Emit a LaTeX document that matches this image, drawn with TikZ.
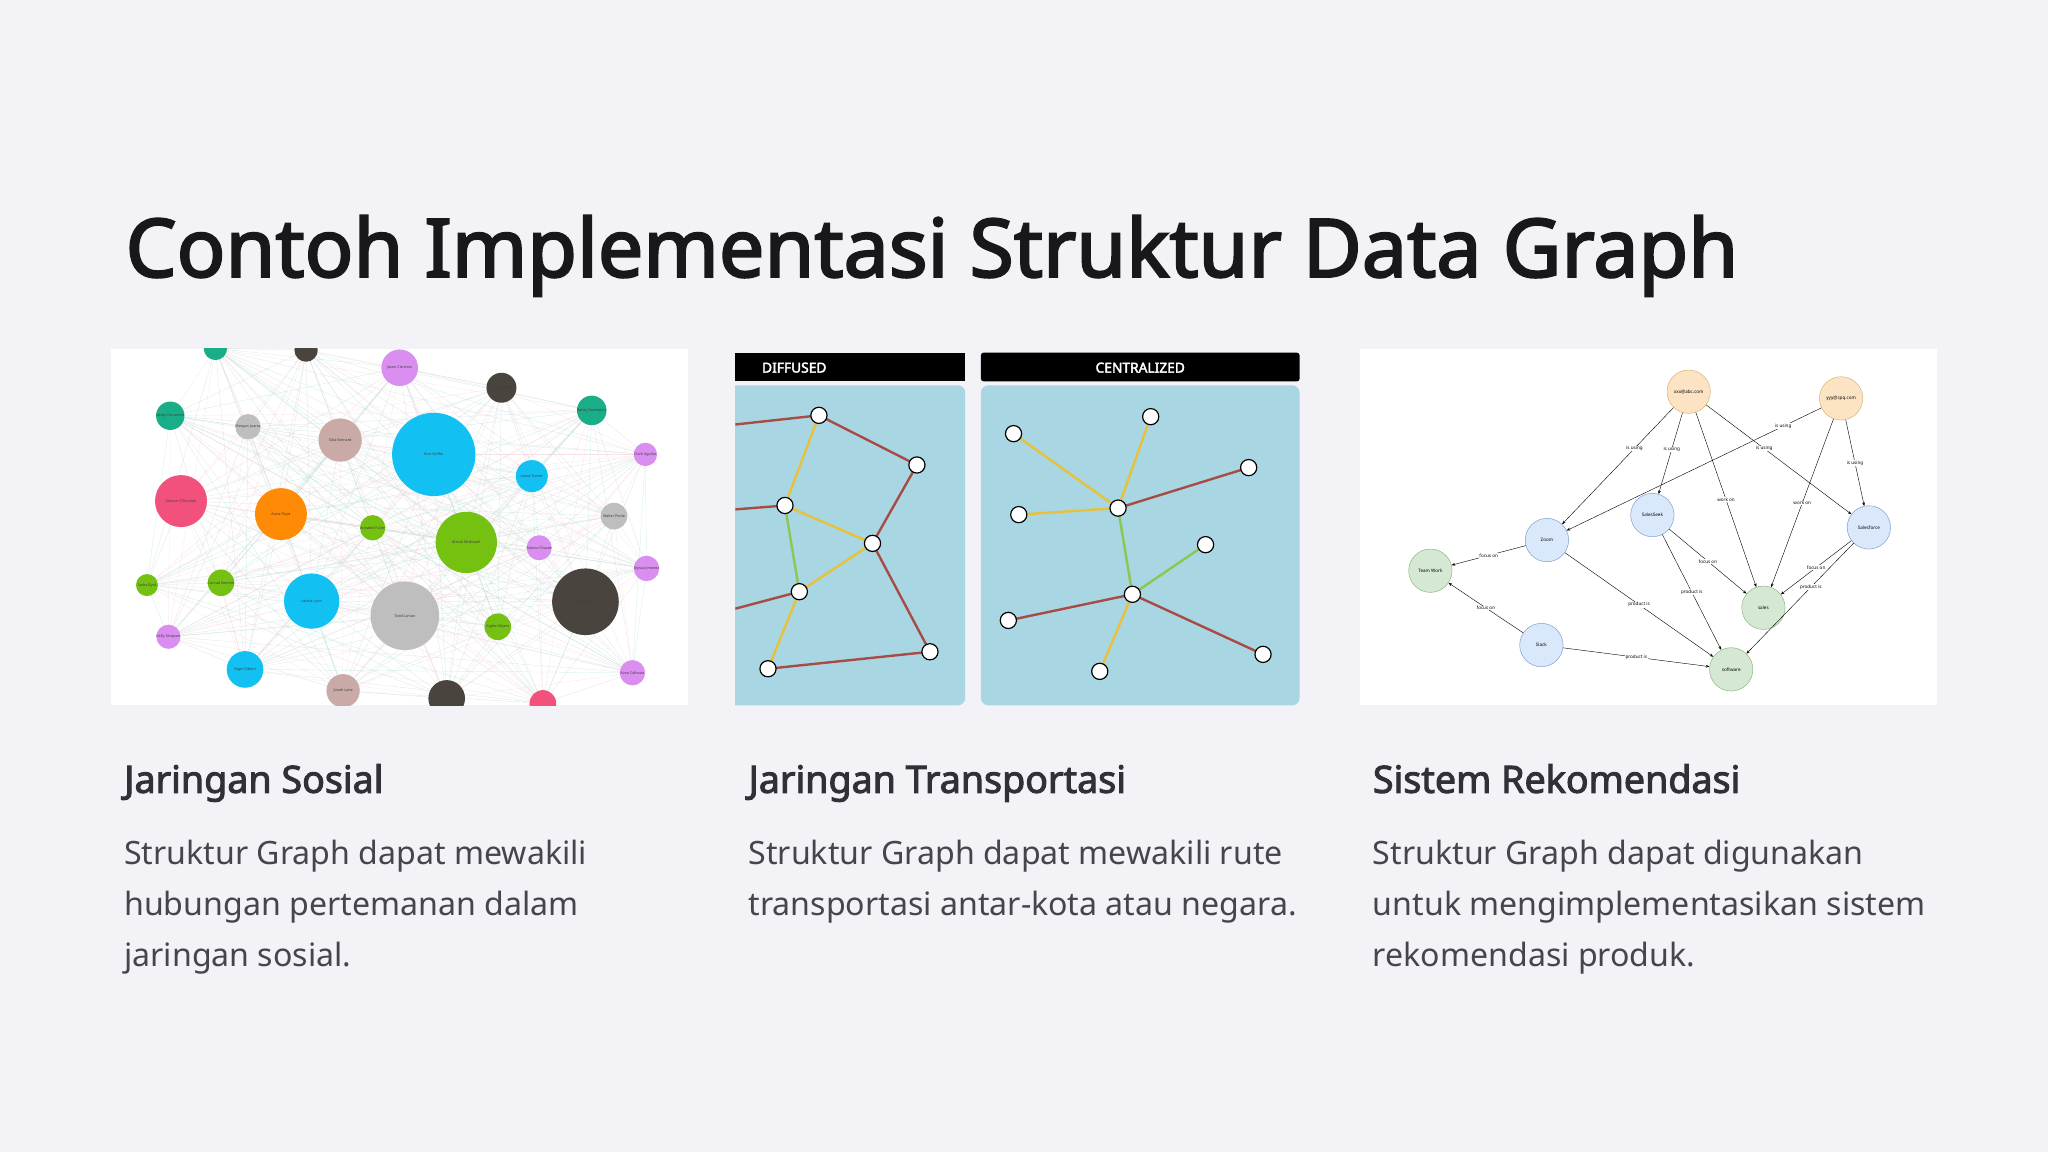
\documentclass[tikz,border=0pt]{standalone}
\usepackage{fontspec}
\setmainfont{Noto Sans}[AutoFakeBold=2.6]
\usetikzlibrary{arrows.meta}
\definecolor{bg}{HTML}{F2F2F7}
\definecolor{ttl}{HTML}{17171C}
\definecolor{hd}{HTML}{303036}
\definecolor{bd}{HTML}{45454B}
\definecolor{sky}{HTML}{A9D6E3}
\definecolor{ty}{HTML}{E8C13A}
\definecolor{tr}{HTML}{A84B45}
\definecolor{tg}{HTML}{8BC850}
\definecolor{cteal}{HTML}{19AE88}
\definecolor{cdark}{HTML}{4A443E}
\definecolor{cviol}{HTML}{DA8EF0}
\definecolor{cgray}{HTML}{BEBEBE}
\definecolor{crosy}{HTML}{C9AAA7}
\definecolor{ccyan}{HTML}{12C0F2}
\definecolor{cpink}{HTML}{F2517C}
\definecolor{corg}{HTML}{FF8A05}
\definecolor{cgrn}{HTML}{74C112}
\definecolor{oF}{HTML}{FCE3C3}\definecolor{oB}{HTML}{D6B36A}
\definecolor{bF}{HTML}{DAE8FC}\definecolor{bB}{HTML}{7C9AC8}
\definecolor{gF}{HTML}{D5E8D4}\definecolor{gB}{HTML}{88B47A}
\begin{document}
\begin{tikzpicture}[x=0.05cm,y=-0.05cm,
  ttext/.style={font=\fontsize{88}{100}\selectfont\bfseries,text=ttl,anchor=base west,inner sep=0},
  htext/.style={font=\fontsize{41}{50}\selectfont\bfseries,text=hd,anchor=base west,inner sep=0},
  btext/.style={font=\fontsize{35}{55.5}\selectfont,text=bd,anchor=north west,inner sep=0,align=left},
  tnode/.style={circle,draw=black,line width=1.3pt,fill=white,minimum size=0.62cm,inner sep=0},
  tline/.style={line width=2.6pt},
  rnode/.style={circle,line width=0.5pt,minimum size=1.66cm,inner sep=0,font=\fontsize{5}{6}\selectfont},
  rlab/.style={fill=white,inner sep=0.6pt,font=\fontsize{5}{6}\selectfont},
  rarr/.style={-{Stealth[length=4pt,width=3pt]},line width=0.45pt},
  sedge/.style={line width=0.25pt,opacity=0.7},
  blab/.style={font=\fontsize{15}{16}\selectfont\bfseries,text=white}
]
\fill[bg] (0,0) rectangle (1568,882);
\useasboundingbox (0,0) rectangle (1568,882);
\node[ttext] (title) at (96,212) {Contoh Implementasi Struktur Data Graph};

% ---------- panel 1 ----------
\fill[white] (85,267) rectangle (527,540);
\begin{scope}
\clip (85,267) rectangle (527,540);
\begin{scope}[shift={(84.2,264.2)},xscale=0.2833,yscale=0.2552]
\foreach \k/\x/\y in {1/285/10,2/530/15,3/783/68,4/1058/128,5/163/212,6/373/245,7/622/285,8/875/328,9/1302/196,10/1447/328,11/1140/393,12/192/468,13/462/507,14/710/548,15/963/592,16/1362/513,17/1160/608,18/1450/670,19/100/720,20/300/713,21/545/768,22/797/812,23/1285/770,24/1048/845,25/158/875,26/365/973,27/630/1037,28/910/1060,29/1170/1075,30/1412/983}
  \coordinate (c\k) at (\x,\y);
\foreach \i in {1,...,30}{
  \foreach \j in {1,...,30}{
    \ifnum\i<\j
      \pgfmathtruncatemacro{\m}{mod(\i*7+\j*3,4)}
      \ifnum\m=0 \draw[sedge,cteal!35] (c\i) -- (c\j);\fi
      \ifnum\m=1 \draw[sedge,gray!35] (c\i) -- (c\j);\fi
      \ifnum\m=2 \draw[sedge,cpink!25] (c\i) -- (c\j);\fi
    \fi}}
\foreach \k/\r/\c/\t in {1/35/cteal/{},2/35/cdark/{},3/55/cviol/{Jason Cisneros},4/45/cdark/{Sidney Lucas},5/33/cteal/{Kasey Cervantes},6/35/cgray/{Morgan Juarez},7/65/crosy/{Talia Bernard},8/125/ccyan/{Kurt Griffin},9/35/cteal/{Bailey Davenport},10/35/cviol/{Clark Aguilar},11/48/ccyan/{Laura Turner},12/78/cpink/{Sharon O'Donnell},13/78/corg/{Anna Floyd},14/38/cgrn/{Annabel Fuller},15/92/cgrn/{Marsh Mcdowell},16/40/cgray/{Walter Poole},17/35/cviol/{Alonso Chavez},18/35/cviol/{Alyssa Jimenez},19/33/cgrn/{Tasha Byrd},20/33/cgrn/{Conrad Barnett},21/83/ccyan/{Leticia Lynn},22/103/cgray/{Todd Larson},23/100/cdark/{Milan Kelly},24/40/cgrn/{Kaylen Myers},25/33/cviol/{Kelly Simpson},26/55/ccyan/{Nigel Gilbert},27/50/crosy/{Jonah Lane},28/55/cdark/{},29/40/cpink/{},30/38/cviol/{Avon Calhoun}}
  \node[circle,fill=\c,minimum size={\r*0.02552cm},inner sep=0,font=\fontsize{4}{5}\selectfont,text=black!75] (s\k) at (c\k) {\t};
\end{scope}
\end{scope}

% ---------- panel 2 ----------
\fill[black] (563,270) rectangle (739,292);
\node[blab,anchor=west] (dlab) at (581,281.5) {DIFFUSED};
\fill[black,rounded corners=3pt] (751,270) rectangle (995,292);
\node[blab] (clab) at (873,281.5) {CENTRALIZED};
\fill[sky,rounded corners=8pt] (540,295) rectangle (739,540);
\fill[bg] (540,290) rectangle (563,545);
\fill[sky,rounded corners=8pt] (751,295) rectangle (995,540);
\coordinate (l1) at (563,325);\coordinate (l2) at (563,390);\coordinate (l3) at (563,466);
\coordinate (d1) at (627,318);\coordinate (d2) at (702,356);
\coordinate (d3) at (601,387);\coordinate (d4) at (668,416);
\coordinate (d5) at (612,453);\coordinate (d6) at (588,512);
\coordinate (d7) at (712,499);
\draw[tline,tr] (l1)--(d1) (d1)--(d2) (d2)--(d4) (d4)--(d7) (d6)--(d7) (l2)--(d3) (l3)--(d5);
\draw[tline,ty] (d1)--(d3) (d3)--(d4) (d4)--(d5) (d5)--(d6);
\draw[tline,tg] (d3)--(d5);
\foreach \n in {d1,d2,d3,d4,d5,d6,d7} \node[tnode] (n\n) at (\n) {};
\coordinate (e1) at (776,332);\coordinate (e2) at (881,319);
\coordinate (e3) at (956,358);\coordinate (e4) at (780,394);
\coordinate (e5) at (856,389);\coordinate (e6) at (923,417);
\coordinate (e7) at (867,455);\coordinate (e8) at (772,475);
\coordinate (e9) at (842,514);\coordinate (e10) at (967,501);
\draw[tline,ty] (e1)--(e5) (e2)--(e5) (e4)--(e5) (e7)--(e9);
\draw[tline,tr] (e5)--(e3) (e8)--(e7) (e7)--(e10);
\draw[tline,tg] (e5)--(e7) (e6)--(e7);
\foreach \n in {e1,e2,e3,e4,e5,e6,e7,e8,e9,e10} \node[tnode] (n\n) at (\n) {};

% ---------- panel 3 ----------
\fill[white] (1041,267) rectangle (1483,540);
\begin{scope}[shift={(1041.3,268.0)},xscale=0.2833,yscale=0.2552]
\node[rnode,fill=oF,draw=oB] (xx) at (888,125) {xxx@abc.com};
\node[rnode,fill=oF,draw=oB] (yy) at (1300,145) {yyy@cpq.com};
\node[rnode,fill=bF,draw=bB] (zo) at (505,570) {Zoom};
\node[rnode,fill=bF,draw=bB] (ss) at (790,495) {SalesSeek};
\node[rnode,fill=bF,draw=bB] (sf) at (1375,532) {Salesforce};
\node[rnode,fill=gF,draw=gB] (tw) at (190,662) {Team Work};
\node[rnode,fill=gF,draw=gB] (sa) at (1090,773) {sales};
\node[rnode,fill=bF,draw=bB] (sl) at (490,885) {Slack};
\node[rnode,fill=gF,draw=gB] (sw) at (1003,958) {software};
\draw[rarr] (xx) -- node[rlab,pos=0.35]{is using} (zo);
\draw[rarr] (xx) -- node[rlab,pos=0.45]{is using} (ss);
\draw[rarr] (xx) -- node[rlab,pos=0.5]{work on} (sa);
\draw[rarr] (xx) -- node[rlab,pos=0.4]{is using} (sf);
\draw[rarr] (yy) -- node[rlab,pos=0.15]{is using} (zo);
\draw[rarr] (yy) -- node[rlab,pos=0.5]{work on} (sa);
\draw[rarr] (yy) -- node[rlab,pos=0.5]{is using} (sf);
\draw[rarr] (zo) -- node[rlab]{focus on} (tw);
\draw[rarr] (sl) -- node[rlab]{focus on} (tw);
\draw[rarr] (ss) -- node[rlab]{focus on} (sa);
\draw[rarr] (sf) -- node[rlab]{focus on} (sa);
\draw[rarr] (zo) -- node[rlab]{product is} (sw);
\draw[rarr] (ss) -- node[rlab]{product is} (sw);
\draw[rarr] (sf) -- node[rlab,pos=0.4]{product is} (sw);
\draw[rarr] (sl) -- node[rlab]{product is} (sw);
\end{scope}

% ---------- texts ----------
\node[htext] (h1) at (95,607) {Jaringan Sosial};
\node[htext] (h2) at (573,607) {Jaringan Transportasi};
\node[htext] (h3) at (1051,607) {Sistem Rekomendasi};
\node[btext] (b1) at (95,643) {Struktur Graph dapat mewakili\\hubungan pertemanan dalam\\jaringan sosial.};
\node[btext] (b2) at (573,643) {Struktur Graph dapat mewakili rute\\transportasi antar-kota atau negara.};
\node[btext] (b3) at (1051,643) {Struktur Graph dapat digunakan\\untuk mengimplementasikan sistem\\rekomendasi produk.};
\end{tikzpicture}
\end{document}
